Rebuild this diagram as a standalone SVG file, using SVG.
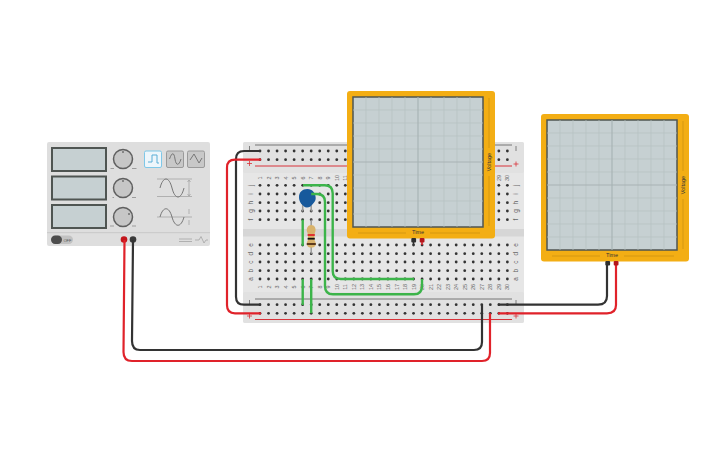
<svg xmlns="http://www.w3.org/2000/svg" xmlns:xlink="http://www.w3.org/1999/xlink" width="725" height="453" viewBox="0 0 725 453">
<style>
text{font-family:"Liberation Sans",Arial,sans-serif}
.hole{fill:#333}
.lbl{font-size:5.5px;fill:#666;text-anchor:middle}
.let{font-size:6.5px;fill:#666;text-anchor:middle}
.disp{fill:#c6d0d2;stroke:#4f5552;stroke-width:2}
.knob{fill:#c6c6c6;stroke:#5f5f5f;stroke-width:1.500}
.btn{fill:#c8c8c8;stroke:#9a9a9a;stroke-width:1}
.wave{fill:none;stroke:#777;stroke-width:1}
.faint{fill:none;stroke:#a5a5a5;stroke-width:.8}
.mark{fill:none;stroke:#9c9c9c;stroke-width:1.200}
.wr{fill:none;stroke:#e0222a;stroke-width:2.200;stroke-linejoin:round}
.wk{fill:none;stroke:#333;stroke-width:2.200;stroke-linejoin:round}
.wg{fill:none;stroke:#3cb44a;stroke-width:2.400}
.leg{stroke:#9a9a9a;stroke-width:1.500;fill:none}
.grid{stroke:#b6c1c2;stroke-width:.7}
.axis{stroke:#a7b2b3;stroke-width:1.100}
.sl{stroke:#c98f10;stroke-width:.7}
</style>
<defs>
<g id="row"><circle class="hole" cx="260" cy="0" r="1.4"/><circle class="hole" cx="268.53" cy="0" r="1.4"/><circle class="hole" cx="277.06" cy="0" r="1.4"/><circle class="hole" cx="285.59" cy="0" r="1.4"/><circle class="hole" cx="294.12" cy="0" r="1.4"/><circle class="hole" cx="302.65" cy="0" r="1.4"/><circle class="hole" cx="311.18" cy="0" r="1.4"/><circle class="hole" cx="319.71" cy="0" r="1.4"/><circle class="hole" cx="328.24" cy="0" r="1.4"/><circle class="hole" cx="336.77" cy="0" r="1.4"/><circle class="hole" cx="345.3" cy="0" r="1.4"/><circle class="hole" cx="353.83" cy="0" r="1.4"/><circle class="hole" cx="362.36" cy="0" r="1.4"/><circle class="hole" cx="370.89" cy="0" r="1.4"/><circle class="hole" cx="379.42" cy="0" r="1.4"/><circle class="hole" cx="387.95" cy="0" r="1.4"/><circle class="hole" cx="396.48" cy="0" r="1.4"/><circle class="hole" cx="405.01" cy="0" r="1.4"/><circle class="hole" cx="413.54" cy="0" r="1.4"/><circle class="hole" cx="422.07" cy="0" r="1.4"/><circle class="hole" cx="430.6" cy="0" r="1.4"/><circle class="hole" cx="439.13" cy="0" r="1.4"/><circle class="hole" cx="447.66" cy="0" r="1.4"/><circle class="hole" cx="456.19" cy="0" r="1.4"/><circle class="hole" cx="464.72" cy="0" r="1.4"/><circle class="hole" cx="473.25" cy="0" r="1.4"/><circle class="hole" cx="481.78" cy="0" r="1.4"/><circle class="hole" cx="490.31" cy="0" r="1.4"/><circle class="hole" cx="498.84" cy="0" r="1.4"/><circle class="hole" cx="507.37" cy="0" r="1.4"/></g>
<g id="nums"><text class="lbl" transform="translate(262,0) rotate(-90)">1</text><text class="lbl" transform="translate(270.5,0) rotate(-90)">2</text><text class="lbl" transform="translate(279,0) rotate(-90)">3</text><text class="lbl" transform="translate(287.6,0) rotate(-90)">4</text><text class="lbl" transform="translate(296.1,0) rotate(-90)">5</text><text class="lbl" transform="translate(304.6,0) rotate(-90)">6</text><text class="lbl" transform="translate(313.2,0) rotate(-90)">7</text><text class="lbl" transform="translate(321.7,0) rotate(-90)">8</text><text class="lbl" transform="translate(330.2,0) rotate(-90)">9</text><text class="lbl" transform="translate(338.8,0) rotate(-90)">10</text><text class="lbl" transform="translate(347.3,0) rotate(-90)">11</text><text class="lbl" transform="translate(355.8,0) rotate(-90)">12</text><text class="lbl" transform="translate(364.4,0) rotate(-90)">13</text><text class="lbl" transform="translate(372.9,0) rotate(-90)">14</text><text class="lbl" transform="translate(381.4,0) rotate(-90)">15</text><text class="lbl" transform="translate(390,0) rotate(-90)">16</text><text class="lbl" transform="translate(398.5,0) rotate(-90)">17</text><text class="lbl" transform="translate(407,0) rotate(-90)">18</text><text class="lbl" transform="translate(415.5,0) rotate(-90)">19</text><text class="lbl" transform="translate(424.1,0) rotate(-90)">20</text><text class="lbl" transform="translate(432.6,0) rotate(-90)">21</text><text class="lbl" transform="translate(441.1,0) rotate(-90)">22</text><text class="lbl" transform="translate(449.7,0) rotate(-90)">23</text><text class="lbl" transform="translate(458.2,0) rotate(-90)">24</text><text class="lbl" transform="translate(466.7,0) rotate(-90)">25</text><text class="lbl" transform="translate(475.3,0) rotate(-90)">26</text><text class="lbl" transform="translate(483.8,0) rotate(-90)">27</text><text class="lbl" transform="translate(492.3,0) rotate(-90)">28</text><text class="lbl" transform="translate(500.9,0) rotate(-90)">29</text><text class="lbl" transform="translate(509.4,0) rotate(-90)">30</text></g>
<g id="scope">
<rect x="347" y="91" width="148" height="147.500" rx="3" fill="#f3ae14"/>
<rect x="353" y="97" width="130" height="130" fill="#c6d0d2" stroke="#4f5552" stroke-width="1.500"/>
<path class="grid" d="M366 97V227M379 97V227M392 97V227M405 97V227M431 97V227M444 97V227M457 97V227M470 97V227M353 110H483M353 123H483M353 136H483M353 149H483M353 175H483M353 188H483M353 201H483M353 214H483"/>
<path class="axis" d="M418 97V227M353 162H483"/>
<path class="sl" d="M489 98V148M489 176V226M358 233H406M430 233H480"/>
<text x="418" y="234" font-size="5.500" fill="#333" text-anchor="middle">Time</text>
<text transform="translate(491,162) rotate(-90)" font-size="5.500" fill="#333" text-anchor="middle">Voltage</text>
</g>
</defs>
<g id="breadboard">
<rect x="243" y="142" width="281" height="181" rx="2" fill="#e6e6e6"/>
<rect x="243" y="142" width="281" height="31" rx="2" fill="#e1e1e1"/>
<rect x="243" y="292" width="281" height="31" rx="2" fill="#e1e1e1"/>
<rect x="243" y="229" width="281" height="7.500" fill="#d6d6d6"/>
<path d="M255 145H512M255 299H512" stroke="#777" stroke-width="1" fill="none"/>
<path d="M255 166H512M255 319.500H512" stroke="#d8333a" stroke-width="1" fill="none"/>
<path d="M249.500 146V151M516 146V151M249.500 300V305M516 300V305" stroke="#666" stroke-width=".8"/>
<path d="M247 163.500H252M249.500 161V166M513.500 164H518.500M516 161.500V166.500M247 316H252M249.500 313.500V318.500M513.500 316H518.500M516 313.500V318.500" stroke="#d8333a" stroke-width=".8"/>
<use href="#row" y="151"/><use href="#row" y="159.700"/>
<use href="#row" y="185.300"/><use href="#row" y="194"/><use href="#row" y="202.700"/><use href="#row" y="211"/><use href="#row" y="219.700"/>
<use href="#row" y="245"/><use href="#row" y="253.700"/><use href="#row" y="262"/><use href="#row" y="270.700"/><use href="#row" y="279"/>
<use href="#row" y="304.700"/><use href="#row" y="313.300"/>
<use href="#nums" y="178"/><use href="#nums" y="287"/>
<g class="let"><text transform="translate(253,185.300) rotate(-90)">j</text><text transform="translate(253,194) rotate(-90)">i</text><text transform="translate(253,202.700) rotate(-90)">h</text><text transform="translate(253,211) rotate(-90)">g</text><text transform="translate(253,219.700) rotate(-90)">f</text><text transform="translate(253,245) rotate(-90)">e</text><text transform="translate(253,253.700) rotate(-90)">d</text><text transform="translate(253,262) rotate(-90)">c</text><text transform="translate(253,270.700) rotate(-90)">b</text><text transform="translate(253,279) rotate(-90)">a</text><text transform="translate(518,185.300) rotate(-90)">j</text><text transform="translate(518,194) rotate(-90)">i</text><text transform="translate(518,202.700) rotate(-90)">h</text><text transform="translate(518,211) rotate(-90)">g</text><text transform="translate(518,219.700) rotate(-90)">f</text><text transform="translate(518,245) rotate(-90)">e</text><text transform="translate(518,253.700) rotate(-90)">d</text><text transform="translate(518,262) rotate(-90)">c</text><text transform="translate(518,270.700) rotate(-90)">b</text><text transform="translate(518,279) rotate(-90)">a</text></g>
</g>
<g id="function-generator">
<rect x="47" y="142" width="163" height="104" rx="2" fill="#dedede"/>
<path d="M47 232.700H210" stroke="#c8c8c8" stroke-width="1"/>
<rect class="disp" x="52" y="148" width="54" height="23"/>
<rect class="disp" x="52" y="176.500" width="54" height="23"/>
<rect class="disp" x="52" y="205" width="54" height="23"/>
<circle class="knob" cx="123" cy="159" r="9.500"/><circle class="knob" cx="123" cy="188" r="9.500"/><circle class="knob" cx="123" cy="217" r="9.500"/>
<circle cx="123" cy="152" r=".8" fill="#333"/><circle cx="123" cy="181" r=".8" fill="#333"/><circle cx="129" cy="214" r=".8" fill="#333"/>
<path class="mark" d="M110.500 168.500H114M132 168.500H136.500M112.500 197.500H114M132 197.500H136M110 226H114M132 226H136"/>
<rect x="144.500" y="151" width="17" height="16.500" rx="1.500" fill="#eef6fb" stroke="#7fc8e8" stroke-width="1"/>
<rect class="btn" x="166.500" y="151" width="17" height="16.500" rx="1.500"/>
<rect class="btn" x="187.500" y="151" width="17" height="16.500" rx="1.500"/>
<path d="M148 162H152V155H157V163H159" fill="none" stroke="#5aaed6" stroke-width="1"/>
<path class="wave" d="M169.500 159C172 152 174 152 175 159S179 166 181 159"/>
<path class="wave" d="M190 160L194 154L199 163L202 158"/>
<path class="faint" d="M157 179H192M157 196.500H192"/>
<path class="wave" d="M160 188C163 176 169 176 172 188S181 200 184 188"/>
<path class="faint" d="M189 180V196M187.500 182L189 180L190.500 182M187.500 194L189 196L190.500 194"/>
<path class="faint" d="M157 217H192M189 209V214M189 220V225"/>
<path class="wave" d="M160 217C163 206 169 206 172 217S181 228 184 217"/>
<rect x="51" y="235.500" width="22" height="8.500" rx="4.200" fill="#c2c2c2"/>
<rect x="51" y="235.500" width="11" height="8.500" rx="4.200" fill="#4d4d4d"/>
<text x="67.500" y="241.500" font-size="4" fill="#555" text-anchor="middle">OFF</text>
<path class="faint" d="M179 239H192M179 241.500H192M195 240H199L201 236.500L204 243L206 240H208"/>
<circle cx="124" cy="239.500" r="3.300" fill="#c3161c"/>
<circle cx="133" cy="239.500" r="3.300" fill="#3a3a3a"/>
</g>
<g id="capacitor">
<path class="leg" d="M302.700 203V211.500M311.200 203V211.500"/>
<path d="M299 197C299 192 302.500 189 307.300 189C312.500 189 315.700 193 315.700 198C315.700 202 312.500 204 310.500 206.500C308 207.800 305.500 207.800 304 206.500C301.500 204 299 202 299 197Z" fill="#17599c"/>
</g>
<g id="resistor">
<path class="leg" d="M311.200 219.700V253.700"/>
<path d="M311.200 225C314.500 225 316 228 315.500 231C314.800 233 314.500 234 314.500 235V240C315.500 242 316 243 315.800 245C315 247.200 312.500 247.700 311.200 247.700C310 247.700 307.500 247.200 306.800 245C306.500 243 307 242 308 240V235C308 234 307.500 233 306.800 231C306.500 228 308 225 311.200 225Z" fill="#d9b36c"/>
<path d="M307.600 235H314.800" stroke="#e0232b" stroke-width="1.800"/>
<path d="M307.600 238.700H314.800" stroke="#111" stroke-width="1.800"/>
<path d="M306.800 244H315.800" stroke="#5c3a1e" stroke-width="2"/>
</g>
<g id="oscilloscope-1"><use href="#scope"/></g>
<g id="oscilloscope-2"><use href="#scope" x="194" y="23"/></g>
<g id="connectors">
<path class="wg" d="M303 185.300H324.700Q332.700 185.300 332.700 193.300V271Q332.700 279 340.700 279H414"/>
<path class="wg" d="M311.200 194H317Q325 194 325 202V286.300Q325 294.300 333 294.300H414Q422 294.300 422 286.300V279"/>
<path class="wg" d="M302.700 219.700V245.700M302.700 279V305M311.200 279V313.300"/>
<path class="wk" d="M261 151H244Q236 151 236 159V296.700Q236 304.700 244 304.700H261"/>
<path class="wr" d="M261 159.700H235Q227 159.700 227 167.700V305.300Q227 313.300 235 313.300H261"/>
<path class="wr" d="M124.500 240L123.500 352Q123.500 361 132 361H482Q490 361 490 353V313.300"/>
<path class="wk" d="M133 240L132 341Q132 350 140 350H474Q482 350 482 342V304.700"/>
<path class="wk" d="M498 304.700H598Q607 304.700 607 296V264"/>
<path class="wr" d="M498 313.300H607Q616 313.300 616 305V264"/>
<path d="M413.500 240V245" stroke="#333" stroke-width="1.500"/><path d="M422 240V245" stroke="#e0232b" stroke-width="1.500"/>
<rect x="411.300" y="238" width="4.800" height="4.500" rx="1" fill="#2f2f2f"/>
<rect x="419.700" y="238" width="4.800" height="4.500" rx="1" fill="#b3161b"/>
<rect x="605.300" y="261" width="4.800" height="4.500" rx="1" fill="#2f2f2f"/>
<rect x="613.700" y="261" width="4.800" height="4.500" rx="1" fill="#b3161b"/>
</g>
</svg>
